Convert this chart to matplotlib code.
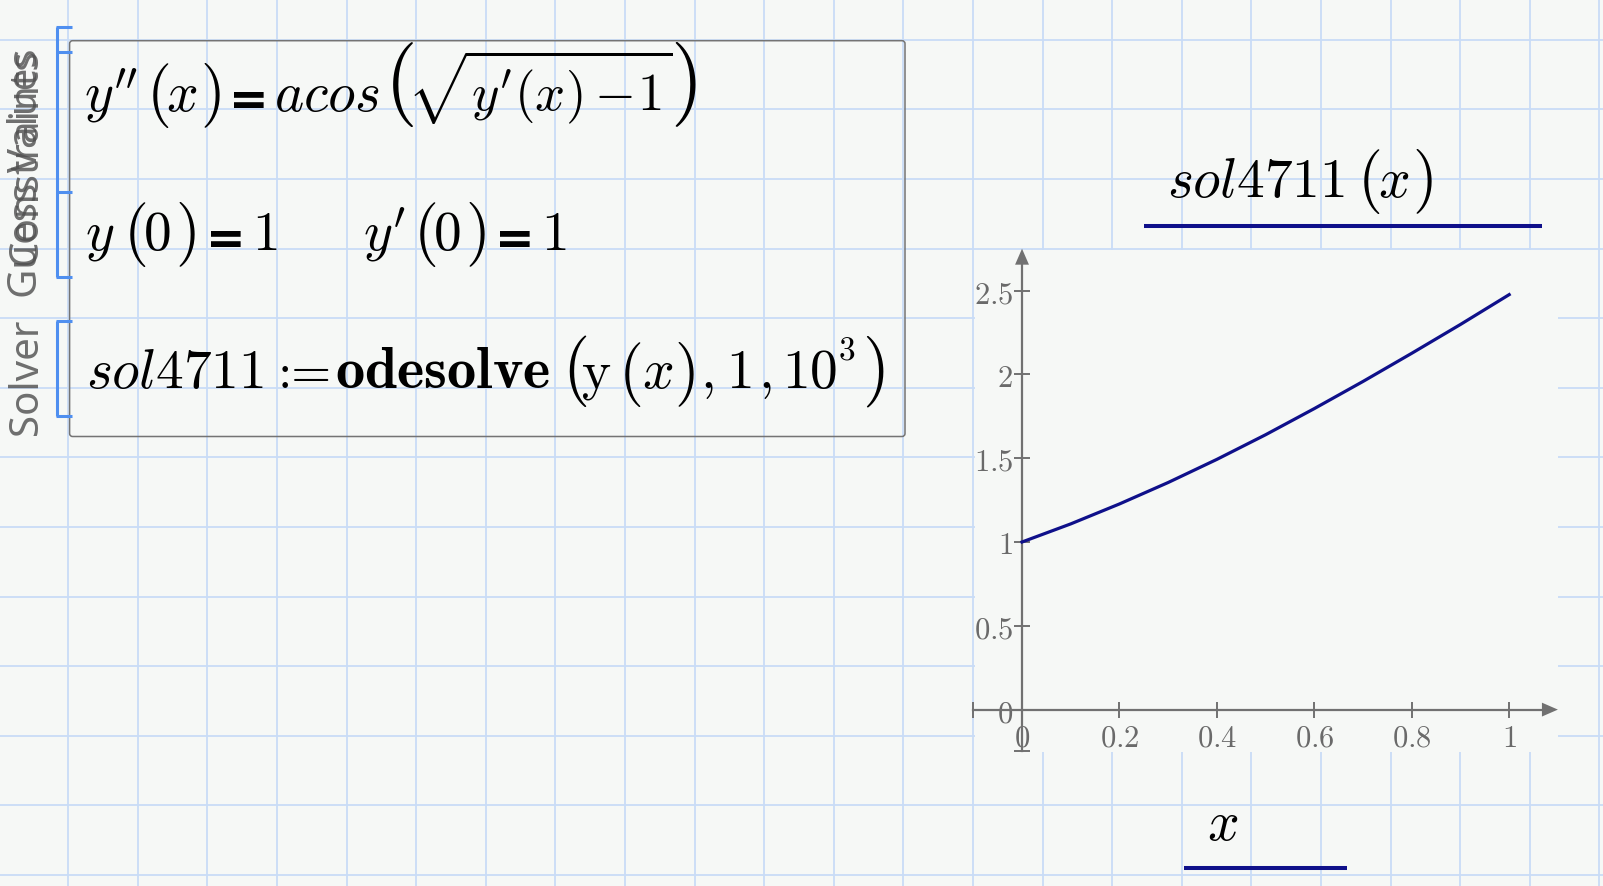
import numpy as np
import matplotlib
matplotlib.use('Agg')
import matplotlib.pyplot as plt
from matplotlib.patches import Rectangle, FancyBboxPatch

plt.rcParams['mathtext.fontset'] = 'cm'

# ---------------- data ----------------
x_vals = [0.0, 0.1, 0.2, 0.3, 0.4, 0.5, 0.6, 0.7, 0.8, 0.9, 1.0]
sol_vals = [1.000, 1.108, 1.227, 1.355, 1.493, 1.640, 1.796, 1.958, 2.126, 2.298, 2.476]
x_ticks = [0, 0.2, 0.4, 0.6, 0.8, 1]
x_tick_labels = ['0', '0.2', '0.4', '0.6', '0.8', '1']
y_ticks = [0, 0.5, 1, 1.5, 2, 2.5]
y_tick_labels = ['0', '0.5', '1', '1.5', '2', '2.5']
x_limits = (-0.1, 1.1)
y_limits = (-0.25, 2.75)

# ---------------- figure ----------------
W, H, DPI = 1603, 887, 100
BG = '#f6f8f6'
GRID = '#c9dcf6'
AXC = '#717171'
NAVY = '#0f108a'
BLUE = '#4f8ff0'

fig = plt.figure(figsize=(W / DPI, H / DPI), dpi=DPI)
fig.patch.set_facecolor(BG)

bg = fig.add_axes([0, 0, 1, 1])
bg.set_xlim(0, W)
bg.set_ylim(H, 0)
bg.axis('off')

for gx in np.arange(68.3, W, 69.6):
    bg.axvline(gx, color=GRID, lw=1.3, zorder=0)
for gy in np.arange(40.7, H, 69.6):
    bg.axhline(gy, color=GRID, lw=1.3, zorder=0)

# plot panel covering grid
bg.add_patch(Rectangle((974.5, 250.5), 1558 - 974.5, 753 - 250.5,
                       facecolor=BG, edgecolor='none', zorder=1))

# region box
bg.add_patch(FancyBboxPatch((69.6, 41.7), 905 - 69.6, 437.5 - 41.7,
                            boxstyle='round,pad=0,rounding_size=3',
                            fc='none', ec='#747474', lw=1.1, zorder=2))

# brackets
def bracket(y0, y1, ticks):
    bg.plot([56.7, 56.7], [y0, y1], color=BLUE, lw=2.2, zorder=3, solid_capstyle='butt')
    for ty in ticks:
        bg.plot([55.6, 71.7], [ty, ty], color=BLUE, lw=2.2, zorder=3, solid_capstyle='butt')

bracket(27.5, 278.3, [27.5, 52.5, 192.7, 278.3])
bracket(321.7, 417.3, [321.7, 417.3])

# left labels
lab_kw = dict(rotation=90, ha='center', fontsize=29, family=['Noto Sans', 'DejaVu Sans'],
              color='#505050', alpha=0.82, zorder=3)
bg.text(27, 48, 'Guess Values', va='top', **lab_kw)
bg.text(27, 48, 'Constraints', va='top', **lab_kw)
bg.text(27, 377, 'Solver', va='center', **lab_kw)

# ---------------- formulas ----------------
FS = 40
P = 46          # ordinary Mathcad parenthesis size (pt)

def t(x, y, s, size=FS, **kw):
    kw.setdefault('color', 'black')
    bg.text(x, y, s, fontsize=size, ha='left', va='baseline', zorder=4, **kw)

def par(x, y, ch, size=P):
    t(x, y, '$' + ch + '$', size=size)

def beq(x, y):
    t(x, y + 4, '=', size=34, family='DejaVu Sans', weight='bold')

# row 1
b1 = 111
t(84, b1, r"$y''$")
par(145.5, b1 + 1, '(')
t(166, b1, r'$x$')
par(199.8, b1 + 1, ')')
beq(229, b1)
t(274, b1, r'$acos$')
par(384, 106, '(', size=60.5)
t(407, b1, r"$\sqrt{y'(x)-\!1}$", size=38)
par(670, 106, ')', size=60.5)

# row 2
b2 = 250
t(85, b2, r'$y$')
par(123.3, b2 + 1.5, '(')
t(142.7, b2, r'$0$')
par(175, b2 + 1.5, ')')
beq(206, b2)
t(251.7, b2, r'$1$')
t(363.3, b2, r"$y'$")
par(413.3, b2 + 1.5, '(')
t(432.7, b2, r'$0$')
par(465, b2 + 1.5, ')')
beq(495, b2)
t(540.7, b2, r'$1$')

# row 3
b3 = 388.3
t(85.9, b3, r'$sol4711$')
t(278, b3, ':=', size=37, family=['cmr10', 'DejaVu Serif'])
t(334.7, b3, r'$\mathbf{odesolve}$', size=42)
par(562, 389.2, '(', size=50.4)
t(581, b3, r'$\mathrm{y}$')
par(618, b3 + 2.7, '(')
t(641.7, b3, r'$x$')
par(673.5, b3 + 2.7, ')')
t(700, b3, r'$,$')
t(726, b3, r'$1$')
t(758, b3, r'$,$')
t(782, b3, r'$10$')
t(837.6, 360, r'$3$', size=24)
par(861.5, 389.2, ')', size=50.4)

# plot title
bt = 196.7
t(1166.7, bt, r'$sol4711$')
par(1356.7, 198, '(')
t(1378, bt, r'$x$')
par(1411.7, 198, ')')
bg.plot([1144, 1541.7], [226.7, 226.7], color=NAVY, lw=2.9, zorder=3, solid_capstyle='butt')

# x label
t(1207, 840, r'$x$')
bg.plot([1184, 1346.5], [869, 869], color=NAVY, lw=2.9, zorder=3, solid_capstyle='butt')

# ---------------- plot ----------------
L, R, T, B = 973.3, 1557.9, 249.7, 752.5
ax = fig.add_axes([L / W, 1 - B / H, (R - L) / W, (B - T) / H])
ax.set_xlim(*x_limits)
ax.set_ylim(*y_limits)
ax.patch.set_alpha(0)
for s in ['top', 'right']:
    ax.spines[s].set_visible(False)
for s in ['left', 'bottom']:
    ax.spines[s].set_position(('data', 0))
    ax.spines[s].set_color(AXC)
    ax.spines[s].set_linewidth(1.6)
ax.spines['bottom'].set_bounds(x_limits[0], x_limits[1] - 0.02)
ax.spines['left'].set_bounds(y_limits[0], y_limits[1] - 0.05)

ax.plot(x_vals, sol_vals, color=NAVY, lw=2.3, clip_on=False, zorder=5)

ax.set_xticks(x_ticks, ['$' + s + '$' for s in x_tick_labels])
ax.set_yticks(y_ticks, ['$' + s + '$' for s in y_tick_labels])
ax.set_xticks([x_limits[0]], minor=True)
ax.set_yticks([y_limits[0]], minor=True)
ax.tick_params(which='both', direction='inout', length=11, width=1.4, color=AXC,
               labelcolor='#6a6a6a', labelsize=22)
ax.tick_params(axis='x', pad=4)
ax.tick_params(axis='y', pad=1)

arrow_kw = dict(arrowstyle='-|>,head_length=1.15,head_width=0.5', color=AXC, lw=0,
                shrinkA=0, shrinkB=0, mutation_scale=10)
ax.annotate('', xy=(x_limits[1], 0), xytext=(x_limits[1] - 0.1, 0),
            arrowprops=arrow_kw, annotation_clip=False)
ax.annotate('', xy=(0, y_limits[1]), xytext=(0, y_limits[1] - 0.3),
            arrowprops=arrow_kw, annotation_clip=False)

fig.savefig('out.png', dpi=DPI, facecolor=BG)
